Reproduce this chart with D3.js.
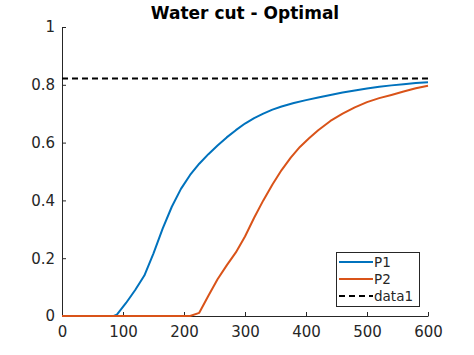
<!DOCTYPE html>
<html><head><meta charset="utf-8">
<script src="https://cdn.jsdelivr.net/npm/d3@7"></script>
<style>
html,body{margin:0;padding:0;background:#fff;}
svg{display:block;font-family:"DejaVu Sans",sans-serif;}
</style></head>
<body><svg id="c" width="474" height="355"></svg>
<script>
const title = "Water cut - Optimal";
const xTicks = [0,100,200,300,400,500,600];
const yTicks = [0,0.2,0.4,0.6,0.8,1];
const yTickLabels = ["0","0.2","0.4","0.6","0.8","1"];
const seriesNames = ["P1","P2","data1"];
const p1X = [0,85,90,105,120,135,150,165,180,195,210,225,240,255,270,285,300,315,330,345,360,380,400,420,440,460,480,500,520,540,560,580,600];
const p1Y = [0,0,0.005,0.045,0.09,0.14,0.217,0.302,0.378,0.44,0.488,0.527,0.56,0.59,0.618,0.643,0.666,0.685,0.70,0.714,0.725,0.737,0.747,0.756,0.765,0.773,0.78,0.787,0.793,0.798,0.802,0.806,0.809];
const p2X = [0,210,225,240,255,270,285,300,315,330,345,360,375,390,405,420,440,460,480,500,520,540,560,580,600];
const p2Y = [0,0,0.011,0.07,0.127,0.175,0.22,0.275,0.34,0.40,0.455,0.505,0.548,0.585,0.615,0.643,0.675,0.70,0.722,0.74,0.754,0.765,0.777,0.788,0.797];
const refX = [0,600];
const refY = [0.822,0.822];

const svg = d3.select("#c");
const L=62,R=428,T=27,B=316;
const x = d3.scaleLinear().domain([0,600]).range([L,R]);
const y = d3.scaleLinear().domain([0,1]).range([B,T]);
const axCol = "#262626";

const xa = svg.append("g").attr("transform",`translate(0,${B})`)
  .call(d3.axisBottom(x).tickValues(xTicks).tickSizeInner(-4).tickSizeOuter(0).tickPadding(10));
const ya = svg.append("g").attr("transform",`translate(${L},0)`)
  .call(d3.axisLeft(y).tickValues(yTicks).tickFormat((d,i)=>yTickLabels[i]).tickSizeInner(-4).tickSizeOuter(0).tickPadding(7));
[xa,ya].forEach(g=>{
  g.selectAll("path").attr("stroke",axCol).attr("stroke-width",1);
  g.selectAll("line").attr("stroke",axCol).attr("stroke-width",1);
  g.selectAll("text").attr("fill",axCol).style("font-size","15px").style("font-family","DejaVu Sans");
});

const line = d3.line().x(d=>x(d[0])).y(d=>y(d[1]));
svg.append("path").datum(refX.map((v,i)=>[v,refY[i]])).attr("d",line)
  .attr("fill","none").attr("stroke","#000").attr("stroke-width",2).attr("stroke-dasharray","6,4");
svg.append("path").datum(p1X.map((v,i)=>[v,p1Y[i]])).attr("d",line)
  .attr("fill","none").attr("stroke","#0072BD").attr("stroke-width",2).attr("stroke-linejoin","round");
svg.append("path").datum(p2X.map((v,i)=>[v,p2Y[i]])).attr("d",line)
  .attr("fill","none").attr("stroke","#D95319").attr("stroke-width",2).attr("stroke-linejoin","round");

svg.append("text").attr("x",(L+R)/2).attr("y",18.5).attr("text-anchor","middle")
  .style("font-size","17px").style("font-weight","bold").attr("fill","#000").text(title);

// legend
const lg = svg.append("g");
lg.append("rect").attr("x",336.5).attr("y",252.5).attr("width",83).attr("height",54)
  .attr("fill","#fff").attr("stroke",axCol).attr("stroke-width",1);
const cols = ["#0072BD","#D95319","#000"];
const dashes = [null,null,"6,4"];
seriesNames.forEach((n,i)=>{
  const yy = 262 + i*17;
  lg.append("line").attr("x1",339).attr("x2",373).attr("y1",yy).attr("y2",yy)
    .attr("stroke",cols[i]).attr("stroke-width",2).attr("stroke-dasharray",dashes[i]);
  lg.append("text").attr("x",374).attr("y",yy).attr("dy","0.35em")
    .style("font-size","13.5px").attr("fill",axCol).text(n);
});
</script></body></html>
